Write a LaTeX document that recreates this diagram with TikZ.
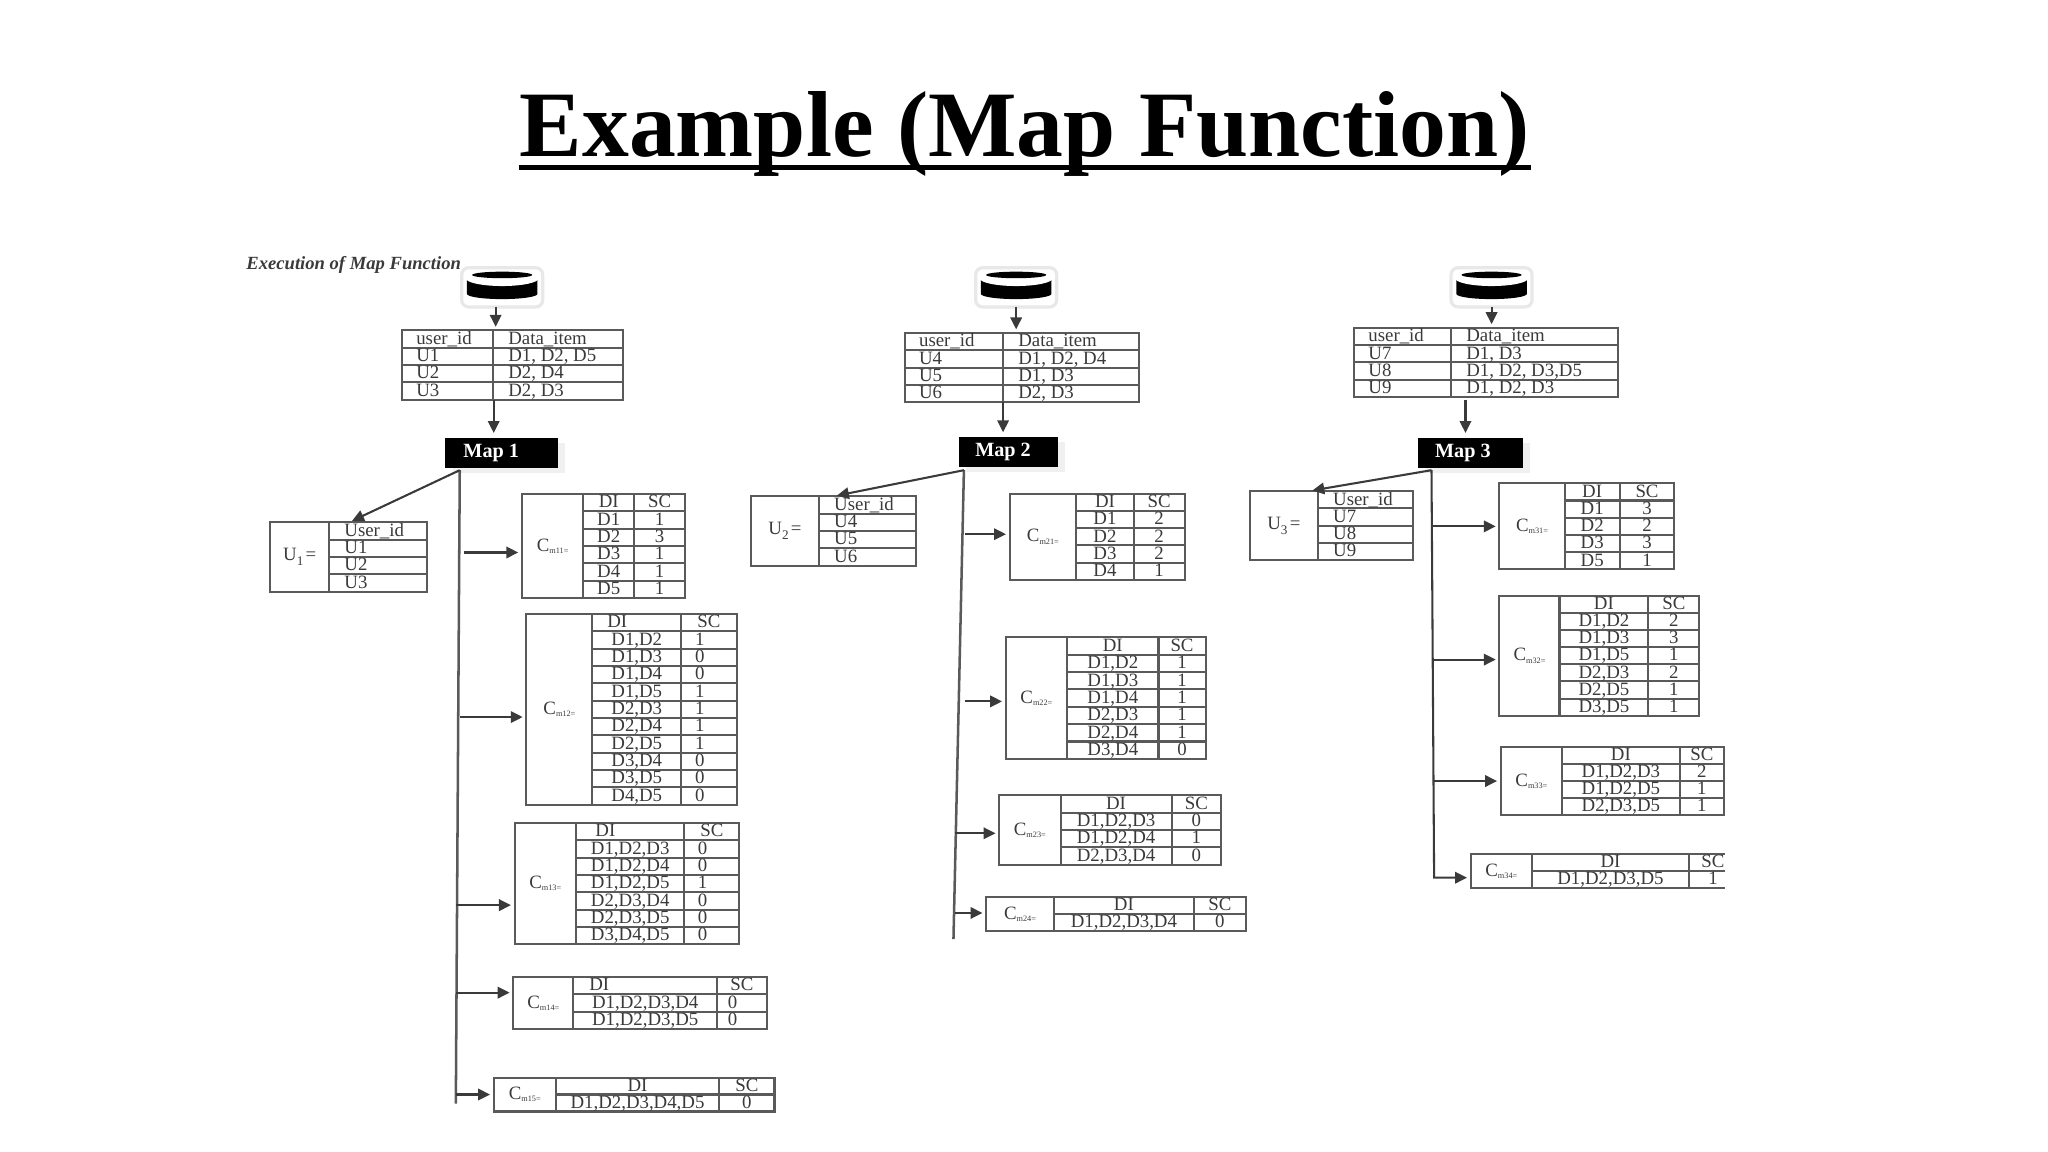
\documentclass[tikz,border=0pt]{standalone}
\usepackage{fontspec}
\setmainfont{Liberation Serif}
\usetikzlibrary{arrows.meta,positioning,calc,fit,shadows}
\definecolor{ink}{HTML}{3A3A3A}
\definecolor{rulegray}{HTML}{5A5A5A}
\tikzset{
  tablebox/.style={rectangle,draw=rulegray,line width=0.45pt,inner sep=0pt,outer sep=0pt},
  rule/.style={draw=rulegray,line width=0.45pt},
  celltext/.style={inner sep=0pt,text=ink,font=\fontsize{4.1}{5}\selectfont},
  mapbox/.style={rectangle,fill=black,text=white,inner sep=0pt,minimum width=0.86cm,minimum height=0.23cm,font=\fontsize{4.4}{5}\selectfont\bfseries,drop shadow={shadow xshift=1.6pt,shadow yshift=-1.2pt,opacity=0.12}},
  dbnode/.style={rectangle,rounded corners=1.5pt,draw=black!9,line width=0.7pt,fill=white,minimum width=0.62cm,minimum height=0.30cm,inner sep=0pt,outer sep=0pt},
  arrow/.style={-{Stealth[length=2.6pt,width=2.5pt,inset=0pt]},line width=0.45pt,draw=ink,shorten >=0.8pt},
  trunk/.style={draw=rulegray,line width=0.55pt}
}
\newcommand{\cname}[1]{C\raisebox{-0.5pt}{\fontsize{1.8}{2}\selectfont #1=}}
\def\scshift{0pt}
% name, x, y
\newcommand{\dbicon}[3]{%
  \node[dbnode] (#1) at (#2,#3) {};
  \fill[black] (#2-27,#3-7) -- (#2-27,#3+5) arc[start angle=180,end angle=0,x radius=27,y radius=4] -- (#2+27,#3-7) -- cycle;
  \fill[white] (#2,#3-7) ellipse[x radius=28,y radius=6];
  \fill[black] (#2,#3-9.5) ellipse[x radius=23,y radius=2.5];
}
% name, x0, x1, x2, x3, top, bottom, label, rows
\newcommand{\sctable}[9]{%
  \node[tablebox,fit={(#2,#6) (#5,#7)}] (#1) {};
  \node[celltext] (#1-l) at ({(#2+#3)/2},{(#6+#7)/2}) {\cname{#8}};
  \draw[rule] (#3,#6) -- (#3,#7);
  \draw[rule] (#4,#6) -- (#4,#7);
  \foreach \dival/\scval [count=\n] in {#9} {\xdef\nrows{\n}}
  \foreach \dival/\scval [count=\i] in {#9} {
    \pgfmathsetmacro\ybot{#6+\i*(#7-#6)/\nrows}
    \ifnum\i<\nrows \draw[rule] (#3,\ybot) -- (#5,\ybot); \fi
    \node[celltext,anchor=base] (#1-d\i) at ({(#3+#4)/2},\ybot-2.6) {\dival};
    \node[celltext,anchor=base] (#1-s\i) at ({(#4+#5)/2},\ybot-2.6) {\scval\ifnum\i>1 \kern\scshift\fi};
  }
}
% name, x0, x1, x2, top, bottom, rows
\newcommand{\usertable}[7]{%
  \node[tablebox,fit={(#2,#5) (#4,#6)}] (#1) {};
  \draw[rule] (#3,#5) -- (#3,#6);
  \foreach \uval/\dval [count=\n] in {#7} {\xdef\nrows{\n}}
  \foreach \uval/\dval [count=\i] in {#7} {
    \pgfmathsetmacro\ybot{#5+\i*(#6-#5)/\nrows}
    \ifnum\i<\nrows \draw[rule] (#2,\ybot) -- (#4,\ybot); \fi
    \node[celltext,anchor=base west] (#1-u\i) at (#2+10,\ybot-2.6) {\uval};
    \node[celltext,anchor=base west] (#1-d\i) at (#3+11,\ybot-2.6) {\dval};
  }
}
% name, x0, x1, x2, top, bottom, label, rows
\newcommand{\uitable}[8]{%
  \node[tablebox,fit={(#2,#5) (#4,#6)}] (#1) {};
  \node[celltext] (#1-l) at ({(#2+#3)/2},{(#5+#6)/2}) {#7};
  \draw[rule] (#3,#5) -- (#3,#6);
  \foreach \uval [count=\n] in {#8} {\xdef\nrows{\n}}
  \foreach \uval [count=\i] in {#8} {
    \pgfmathsetmacro\ybot{#5+\i*(#6-#5)/\nrows}
    \ifnum\i<\nrows \draw[rule] (#3,\ybot) -- (#4,\ybot); \fi
    \node[celltext,anchor=base west] (#1-u\i) at (#3+11,\ybot-2.6) {\uval};
  }
}
\begin{document}
\begin{tikzpicture}[x=0.01cm,y=-0.01cm]
  \useasboundingbox (0,0) rectangle (1568,882);
  \node[inner sep=0pt,anchor=base,font=\fontsize{20.4}{24}\selectfont\bfseries] (title) at (784.5,120) {Example (Map Function)};
  \draw[line width=1.15pt] ([yshift=-2.4pt]title.base west) -- ([yshift=-2.4pt]title.base east);
  \node[inner sep=0pt,anchor=base west,text=ink,font=\fontsize{4.05}{5}\selectfont\bfseries\itshape] (exec) at (188,206) {Execution of Map Function};

  % Map 1
  \dbicon{db1}{384.5}{220}
  \usertable{usr1}{308}{377.5}{477}{253}{306}{user\_id/Data\_item,{U1/D1, D2, D5},{U2/D2, D4},{U3/D2, D3}}
  \node[mapbox] (map1) at (384,346.5) {Map 1\kern4.5pt};
  \coordinate (u1out) at (378,306);
  \coordinate (j1) at (352,360);
  \coordinate (b1) at (349,845);
  \draw[arrow] ([xshift=-0.05cm]db1.south) -- ([xshift=-0.05cm]db1.south |- usr1.north);
  \draw[arrow] (u1out) -- (u1out |- map1.north);
  \draw[trunk] (j1) -- (b1);
  \uitable{ui1}{207}{252}{327}{400}{453}{U\textsubscript{1}=}{User\_id,U1,U2,U3}
  \draw[arrow] (j1) -- (ui1.north);
  \sctable{c11}{399.6}{446.6}{485.5}{524.5}{378}{458}{m11}{DI/SC,D1/1,D2/3,D3/1,D4/1,D5/1}
  \def\scshift{4pt}
  \sctable{c12}{403}{453.6}{521.5}{564}{470}{616}{m12}{DI\kern8.5pt/SC,{D1,D2/1},{D1,D3/0},{D1,D4/0},{D1,D5/1},{D2,D3/1},{D2,D4/1},{D2,D5/1},{D3,D4/0},{D3,D5/0},{D4,D5/0}}
  \sctable{c13}{394}{441}{524}{566}{630}{723}{m13}{DI\kern10.8pt/SC,{D1,D2,D3/0},{D1,D2,D4/0},{D1,D2,D5/1},{D2,D3,D4/0},{D2,D3,D5/0},{D3,D4,D5/0}}
  \sctable{c14}{393}{439}{549}{587}{748}{788}{m14}{DI\kern20pt/SC,{D1,D2,D3,D4/0},{D1,D2,D3,D5/0}}
  \def\scshift{0pt}
  \sctable{c15}{378}{425.6}{550.6}{593}{825}{851}{m15}{DI/SC,{D1,D2,D3,D4,D5/0}}
  \coordinate (a11) at (355,423);
  \coordinate (a12) at (352,549);
  \coordinate (a13) at (349,693);
  \coordinate (a14) at (349,760);
  \coordinate (a15) at (349,838);
  \draw[arrow] (a11) -- (a11 -| c11.west);
  \draw[arrow] (a12) -- (a12 -| c12.west);
  \draw[arrow] (a13) -- (a13 -| c13.west);
  \draw[arrow] (a14) -- (a14 -| c14.west);
  \draw[arrow] (a15) -- (a15 -| c15.west);

  % Map 2
  \dbicon{db2}{778}{220}
  \usertable{usr2}{693}{768}{872}{255}{308}{user\_id/Data\_item,{U4/D1, D2, D4},{U5/D1, D3},{U6/D2, D3}}
  \node[mapbox,minimum width=0.76cm] (map2) at (772,346) {Map 2\kern2.3pt};
  \coordinate (u2out) at (768,308);
  \coordinate (j2) at (738,360);
  \coordinate (b2) at (730,719);
  \draw[arrow] (db2.south) -- (db2.south |- usr2.north);
  \draw[arrow] (u2out) -- (u2out |- map2.north);
  \draw[trunk] (j2) -- (b2);
  \uitable{ui2}{575}{627}{701}{380}{433}{U\textsubscript{2}=}{User\_id,U4,U5,U6}
  \draw[arrow] (j2) -- (ui2.north);
  \sctable{c21}{773}{824}{868}{907}{378}{444}{m21}{DI/SC,D1/2,D2/2,D3/2,D4/1}
  \sctable{c22}{770}{817}{887}{923}{488}{581}{m22}{DI/SC,{D1,D2/1},{D1,D3/1},{D1,D4/1},{D2,D3/1},{D2,D4/1},{D3,D4/0}}
  \sctable{c23}{765}{812}{897}{935}{609}{662}{m23}{DI/SC,{D1,D2,D3/0},{D1,D2,D4/1},{D2,D3,D4/0}}
  \sctable{c24}{755}{807}{914}{954}{687}{713}{m24}{DI/SC,{D1,D2,D3,D4/0}}
  \coordinate (a21) at (739,409);
  \coordinate (a22) at (739,537);
  \coordinate (a23) at (731,638);
  \coordinate (a24) at (731,699);
  \draw[arrow] (a21) -- (a21 -| c21.west);
  \draw[arrow] (a22) -- (a22 -| c22.west);
  \draw[arrow] (a23) -- (a23 -| c23.west);
  \draw[arrow] (a24) -- (a24 -| c24.west);

  % Map 3
  \dbicon{db3}{1142}{220}
  \usertable{usr3}{1037}{1111}{1239}{251}{304}{user\_id/Data\_item,{U7/D1, D3},{U8/D1, D2, D3,D5},{U9/D1, D2, D3}}
  \node[mapbox,minimum width=0.80cm] (map3) at (1126,346.5) {Map 3\kern3.4pt};
  \coordinate (u3out) at (1122,306);
  \coordinate (j3) at (1096,360);
  \coordinate (b3) at (1098,672);
  \draw[arrow] (db3.south) -- (db3.south |- usr3.north);
  \draw[arrow] (u3out) -- (u3out |- map3.north);
  \uitable{ui3}{957}{1009}{1082}{376}{429}{U\textsubscript{3}=}{User\_id,U7,U8,U9}
  \coordinate (u3in) at (1002,376);
  \draw[arrow] (j3) -- (u3in);
  \sctable{c31}{1148}{1198}{1240}{1282}{370}{436}{m31}{DI/SC,D1/3,D2/2,D3/3,D5/1}
  \sctable{c32}{1148}{1194}{1262}{1301}{456}{548}{m32}{DI/SC,{D1,D2/2},{D1,D3/3},{D1,D5/1},{D2,D3/2},{D2,D5/1},{D3,D5/1}}
  \sctable{c33}{1149}{1196}{1286}{1320}{572}{624}{m33}{DI/SC,{D1,D2,D3/2},{D1,D2,D5/1},{D2,D3,D5/1}}
  \sctable{c34}{1126}{1173}{1293}{1330}{654}{680}{m34}{DI/SC,{D1,D2,D3,D5/1}}
  \fill[white] (1321,650) rectangle (1334,684);
  \coordinate (a31) at (1097,403);
  \coordinate (a32) at (1097,505);
  \coordinate (a33) at (1097,598);
  \draw[arrow] (a31) -- (a31 -| c31.west);
  \draw[arrow] (a32) -- (a32 -| c32.west);
  \draw[arrow] (a33) -- (a33 -| c33.west);
  \draw[arrow] (j3) -- (b3) -- (b3 -| c34.west);
\end{tikzpicture}
\end{document}
